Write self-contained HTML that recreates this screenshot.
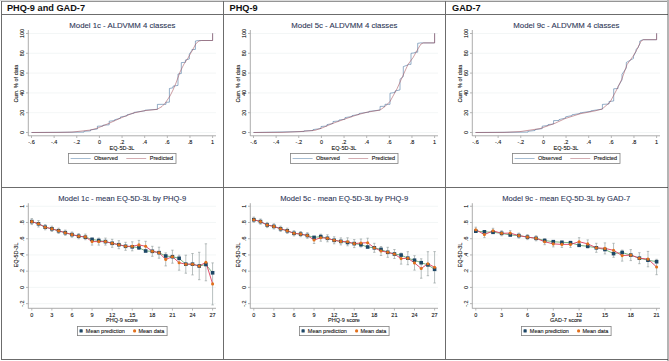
<!DOCTYPE html>
<html><head><meta charset="utf-8"><style>
html,body{margin:0;padding:0;background:#fff;width:669px;height:361px;overflow:hidden}
svg{display:block}
text{font-family:"Liberation Sans", sans-serif}
</style></head><body>
<svg width="669" height="361" viewBox="0 0 669 361">
<rect x="0" y="0" width="669" height="361" fill="#fff"/>
<text x="122.4" y="27.6" font-size="7.8" fill="#2c3656" stroke="#2c3656" stroke-width="0.1" text-anchor="middle" font-weight="normal">Model 1c - ALDVMM 4 classes</text>
<line x1="28.8" y1="132.5" x2="216" y2="132.5" stroke="#f0f4f4" stroke-width="0.8"/>
<line x1="28.8" y1="112.7" x2="216" y2="112.7" stroke="#f0f4f4" stroke-width="0.8"/>
<line x1="28.8" y1="92.9" x2="216" y2="92.9" stroke="#f0f4f4" stroke-width="0.8"/>
<line x1="28.8" y1="73.1" x2="216" y2="73.1" stroke="#f0f4f4" stroke-width="0.8"/>
<line x1="28.8" y1="53.3" x2="216" y2="53.3" stroke="#f0f4f4" stroke-width="0.8"/>
<line x1="28.8" y1="33.5" x2="216" y2="33.5" stroke="#f0f4f4" stroke-width="0.8"/>
<line x1="28.3" y1="30" x2="28.3" y2="136" stroke="#a4a4a4" stroke-width="0.9"/>
<line x1="28.3" y1="135.8" x2="216" y2="135.8" stroke="#a4a4a4" stroke-width="0.9"/>
<line x1="26" y1="132.5" x2="28.3" y2="132.5" stroke="#a4a4a4" stroke-width="0.8"/>
<text x="23.8" y="132.5" font-size="5.3" fill="#151515" stroke="#151515" stroke-width="0.1" text-anchor="middle" font-weight="normal" transform="rotate(-90 23.8 132.5)">0</text>
<line x1="26" y1="112.7" x2="28.3" y2="112.7" stroke="#a4a4a4" stroke-width="0.8"/>
<text x="23.8" y="112.7" font-size="5.3" fill="#151515" stroke="#151515" stroke-width="0.1" text-anchor="middle" font-weight="normal" transform="rotate(-90 23.8 112.7)">20</text>
<line x1="26" y1="92.9" x2="28.3" y2="92.9" stroke="#a4a4a4" stroke-width="0.8"/>
<text x="23.8" y="92.9" font-size="5.3" fill="#151515" stroke="#151515" stroke-width="0.1" text-anchor="middle" font-weight="normal" transform="rotate(-90 23.8 92.9)">40</text>
<line x1="26" y1="73.1" x2="28.3" y2="73.1" stroke="#a4a4a4" stroke-width="0.8"/>
<text x="23.8" y="73.1" font-size="5.3" fill="#151515" stroke="#151515" stroke-width="0.1" text-anchor="middle" font-weight="normal" transform="rotate(-90 23.8 73.1)">60</text>
<line x1="26" y1="53.3" x2="28.3" y2="53.3" stroke="#a4a4a4" stroke-width="0.8"/>
<text x="23.8" y="53.3" font-size="5.3" fill="#151515" stroke="#151515" stroke-width="0.1" text-anchor="middle" font-weight="normal" transform="rotate(-90 23.8 53.3)">80</text>
<line x1="26" y1="33.5" x2="28.3" y2="33.5" stroke="#a4a4a4" stroke-width="0.8"/>
<text x="23.8" y="33.5" font-size="5.3" fill="#151515" stroke="#151515" stroke-width="0.1" text-anchor="middle" font-weight="normal" transform="rotate(-90 23.8 33.5)">100</text>
<line x1="31.5" y1="135.8" x2="31.5" y2="138" stroke="#a4a4a4" stroke-width="0.8"/>
<text x="31.5" y="144.3" font-size="5.5" fill="#151515" stroke="#151515" stroke-width="0.1" text-anchor="middle" font-weight="normal">-.6</text>
<line x1="54.14" y1="135.8" x2="54.14" y2="138" stroke="#a4a4a4" stroke-width="0.8"/>
<text x="54.14" y="144.3" font-size="5.5" fill="#151515" stroke="#151515" stroke-width="0.1" text-anchor="middle" font-weight="normal">-.4</text>
<line x1="76.78" y1="135.8" x2="76.78" y2="138" stroke="#a4a4a4" stroke-width="0.8"/>
<text x="76.78" y="144.3" font-size="5.5" fill="#151515" stroke="#151515" stroke-width="0.1" text-anchor="middle" font-weight="normal">-.2</text>
<line x1="99.41" y1="135.8" x2="99.41" y2="138" stroke="#a4a4a4" stroke-width="0.8"/>
<text x="99.41" y="144.3" font-size="5.5" fill="#151515" stroke="#151515" stroke-width="0.1" text-anchor="middle" font-weight="normal">0</text>
<line x1="122.05" y1="135.8" x2="122.05" y2="138" stroke="#a4a4a4" stroke-width="0.8"/>
<text x="122.05" y="144.3" font-size="5.5" fill="#151515" stroke="#151515" stroke-width="0.1" text-anchor="middle" font-weight="normal">.2</text>
<line x1="144.69" y1="135.8" x2="144.69" y2="138" stroke="#a4a4a4" stroke-width="0.8"/>
<text x="144.69" y="144.3" font-size="5.5" fill="#151515" stroke="#151515" stroke-width="0.1" text-anchor="middle" font-weight="normal">.4</text>
<line x1="167.33" y1="135.8" x2="167.33" y2="138" stroke="#a4a4a4" stroke-width="0.8"/>
<text x="167.33" y="144.3" font-size="5.5" fill="#151515" stroke="#151515" stroke-width="0.1" text-anchor="middle" font-weight="normal">.6</text>
<line x1="189.96" y1="135.8" x2="189.96" y2="138" stroke="#a4a4a4" stroke-width="0.8"/>
<text x="189.96" y="144.3" font-size="5.5" fill="#151515" stroke="#151515" stroke-width="0.1" text-anchor="middle" font-weight="normal">.8</text>
<line x1="212.6" y1="135.8" x2="212.6" y2="138" stroke="#a4a4a4" stroke-width="0.8"/>
<text x="212.6" y="144.3" font-size="5.5" fill="#151515" stroke="#151515" stroke-width="0.1" text-anchor="middle" font-weight="normal">1</text>
<text x="122" y="149.6" font-size="5.5" fill="#151515" stroke="#151515" stroke-width="0.1" text-anchor="middle" font-weight="normal">EQ-5D-3L</text>
<text x="18.2" y="83.6" font-size="5.5" fill="#151515" stroke="#151515" stroke-width="0.1" text-anchor="middle" font-weight="normal" transform="rotate(-90 18.2 83.6)">Cum. % of data</text>
<rect x="68.5" y="153.5" width="107.5" height="10" fill="#fff" stroke="#808080" stroke-width="0.8"/>
<line x1="70.6" y1="158.5" x2="90.6" y2="158.5" stroke="#3a6a98" stroke-width="0.9" stroke-opacity="0.5"/>
<text x="94" y="160.4" font-size="5.5" fill="#151515" stroke="#151515" stroke-width="0.1" text-anchor="start" font-weight="normal">Observed</text>
<line x1="126.3" y1="158.5" x2="146.2" y2="158.5" stroke="#a04a55" stroke-width="0.9" stroke-opacity="0.5"/>
<text x="149.8" y="160.4" font-size="5.5" fill="#151515" stroke="#151515" stroke-width="0.1" text-anchor="start" font-weight="normal">Predicted</text>
<polyline points="31.5,132.5 84,132.1 84,131.3 90.5,130.9 90.5,129.9 97.4,129 97.4,126.2 103,126 103,125.2 109.2,124.8 109.2,121.2 114.5,120.6 114.5,119.8 120.4,118.2 120.4,117 127,115.8 127,114.8 134,113.2 134,112.4 145,110.8 145,110.2 157.4,109.3 157.4,104.4 166,104.3 166,102.2 169.4,102.2 169.4,88.5 173,87.8 173,86.2 178,85.4 178,74 181.3,73.5 181.3,62.6 185.4,62.3 185.4,60 189.3,59 189.3,54.1 191.9,50.5 191.9,49.6 195.4,49.4 195.4,41 198.6,40.5 212.6,40.5 212.6,33.3" fill="none" stroke="#3a6a98" stroke-width="0.9" stroke-opacity="0.6" stroke-linejoin="round"/>
<polyline points="31.5,132.5 60,132.4 72,132.1 82,131 90,130.1 97,128.3 109,123.3 121,117.9 133,113.1 145,110.6 157,109.4 162,106.5 165,103.3 170,96 173,90 176,83 180,72 184,64 188,58 192,51 196,43.5 199,41 201.5,40.5 212.6,40.5 212.6,33.3" fill="none" stroke="#a04a55" stroke-width="0.9" stroke-opacity="0.6" stroke-linejoin="round"/>
<text x="344.4" y="27.6" font-size="7.8" fill="#2c3656" stroke="#2c3656" stroke-width="0.1" text-anchor="middle" font-weight="normal">Model 5c - ALDVMM 4 classes</text>
<line x1="250.8" y1="132.5" x2="438" y2="132.5" stroke="#f0f4f4" stroke-width="0.8"/>
<line x1="250.8" y1="112.7" x2="438" y2="112.7" stroke="#f0f4f4" stroke-width="0.8"/>
<line x1="250.8" y1="92.9" x2="438" y2="92.9" stroke="#f0f4f4" stroke-width="0.8"/>
<line x1="250.8" y1="73.1" x2="438" y2="73.1" stroke="#f0f4f4" stroke-width="0.8"/>
<line x1="250.8" y1="53.3" x2="438" y2="53.3" stroke="#f0f4f4" stroke-width="0.8"/>
<line x1="250.8" y1="33.5" x2="438" y2="33.5" stroke="#f0f4f4" stroke-width="0.8"/>
<line x1="250.3" y1="30" x2="250.3" y2="136" stroke="#a4a4a4" stroke-width="0.9"/>
<line x1="250.3" y1="135.8" x2="438" y2="135.8" stroke="#a4a4a4" stroke-width="0.9"/>
<line x1="248" y1="132.5" x2="250.3" y2="132.5" stroke="#a4a4a4" stroke-width="0.8"/>
<text x="245.8" y="132.5" font-size="5.3" fill="#151515" stroke="#151515" stroke-width="0.1" text-anchor="middle" font-weight="normal" transform="rotate(-90 245.8 132.5)">0</text>
<line x1="248" y1="112.7" x2="250.3" y2="112.7" stroke="#a4a4a4" stroke-width="0.8"/>
<text x="245.8" y="112.7" font-size="5.3" fill="#151515" stroke="#151515" stroke-width="0.1" text-anchor="middle" font-weight="normal" transform="rotate(-90 245.8 112.7)">20</text>
<line x1="248" y1="92.9" x2="250.3" y2="92.9" stroke="#a4a4a4" stroke-width="0.8"/>
<text x="245.8" y="92.9" font-size="5.3" fill="#151515" stroke="#151515" stroke-width="0.1" text-anchor="middle" font-weight="normal" transform="rotate(-90 245.8 92.9)">40</text>
<line x1="248" y1="73.1" x2="250.3" y2="73.1" stroke="#a4a4a4" stroke-width="0.8"/>
<text x="245.8" y="73.1" font-size="5.3" fill="#151515" stroke="#151515" stroke-width="0.1" text-anchor="middle" font-weight="normal" transform="rotate(-90 245.8 73.1)">60</text>
<line x1="248" y1="53.3" x2="250.3" y2="53.3" stroke="#a4a4a4" stroke-width="0.8"/>
<text x="245.8" y="53.3" font-size="5.3" fill="#151515" stroke="#151515" stroke-width="0.1" text-anchor="middle" font-weight="normal" transform="rotate(-90 245.8 53.3)">80</text>
<line x1="248" y1="33.5" x2="250.3" y2="33.5" stroke="#a4a4a4" stroke-width="0.8"/>
<text x="245.8" y="33.5" font-size="5.3" fill="#151515" stroke="#151515" stroke-width="0.1" text-anchor="middle" font-weight="normal" transform="rotate(-90 245.8 33.5)">100</text>
<line x1="253.5" y1="135.8" x2="253.5" y2="138" stroke="#a4a4a4" stroke-width="0.8"/>
<text x="253.5" y="144.3" font-size="5.5" fill="#151515" stroke="#151515" stroke-width="0.1" text-anchor="middle" font-weight="normal">-.6</text>
<line x1="276.14" y1="135.8" x2="276.14" y2="138" stroke="#a4a4a4" stroke-width="0.8"/>
<text x="276.14" y="144.3" font-size="5.5" fill="#151515" stroke="#151515" stroke-width="0.1" text-anchor="middle" font-weight="normal">-.4</text>
<line x1="298.77" y1="135.8" x2="298.77" y2="138" stroke="#a4a4a4" stroke-width="0.8"/>
<text x="298.77" y="144.3" font-size="5.5" fill="#151515" stroke="#151515" stroke-width="0.1" text-anchor="middle" font-weight="normal">-.2</text>
<line x1="321.41" y1="135.8" x2="321.41" y2="138" stroke="#a4a4a4" stroke-width="0.8"/>
<text x="321.41" y="144.3" font-size="5.5" fill="#151515" stroke="#151515" stroke-width="0.1" text-anchor="middle" font-weight="normal">0</text>
<line x1="344.05" y1="135.8" x2="344.05" y2="138" stroke="#a4a4a4" stroke-width="0.8"/>
<text x="344.05" y="144.3" font-size="5.5" fill="#151515" stroke="#151515" stroke-width="0.1" text-anchor="middle" font-weight="normal">.2</text>
<line x1="366.69" y1="135.8" x2="366.69" y2="138" stroke="#a4a4a4" stroke-width="0.8"/>
<text x="366.69" y="144.3" font-size="5.5" fill="#151515" stroke="#151515" stroke-width="0.1" text-anchor="middle" font-weight="normal">.4</text>
<line x1="389.33" y1="135.8" x2="389.33" y2="138" stroke="#a4a4a4" stroke-width="0.8"/>
<text x="389.33" y="144.3" font-size="5.5" fill="#151515" stroke="#151515" stroke-width="0.1" text-anchor="middle" font-weight="normal">.6</text>
<line x1="411.96" y1="135.8" x2="411.96" y2="138" stroke="#a4a4a4" stroke-width="0.8"/>
<text x="411.96" y="144.3" font-size="5.5" fill="#151515" stroke="#151515" stroke-width="0.1" text-anchor="middle" font-weight="normal">.8</text>
<line x1="434.6" y1="135.8" x2="434.6" y2="138" stroke="#a4a4a4" stroke-width="0.8"/>
<text x="434.6" y="144.3" font-size="5.5" fill="#151515" stroke="#151515" stroke-width="0.1" text-anchor="middle" font-weight="normal">1</text>
<text x="344" y="149.6" font-size="5.5" fill="#151515" stroke="#151515" stroke-width="0.1" text-anchor="middle" font-weight="normal">EQ-5D-3L</text>
<text x="240.2" y="83.6" font-size="5.5" fill="#151515" stroke="#151515" stroke-width="0.1" text-anchor="middle" font-weight="normal" transform="rotate(-90 240.2 83.6)">Cum. % of data</text>
<rect x="290.5" y="153.5" width="107.5" height="10" fill="#fff" stroke="#808080" stroke-width="0.8"/>
<line x1="292.6" y1="158.5" x2="312.6" y2="158.5" stroke="#3a6a98" stroke-width="0.9" stroke-opacity="0.5"/>
<text x="316" y="160.4" font-size="5.5" fill="#151515" stroke="#151515" stroke-width="0.1" text-anchor="start" font-weight="normal">Observed</text>
<line x1="348.3" y1="158.5" x2="368.2" y2="158.5" stroke="#a04a55" stroke-width="0.9" stroke-opacity="0.5"/>
<text x="371.8" y="160.4" font-size="5.5" fill="#151515" stroke="#151515" stroke-width="0.1" text-anchor="start" font-weight="normal">Predicted</text>
<polyline points="253.5,132.5 304,131.5 304,130.9 313,130.6 313,129.6 321,128.5 321,126.5 327,126 327,124.6 333,123.5 333,121.5 339,121 339,120 345,119.2 345,117.6 352,116.5 352,115.6 359,114.5 359,113.5 369,112.1 369,111.4 380.1,110 380.1,106.4 385,106.3 385,104.3 390,104.3 390,93.2 395,92.5 395,91 400,89.9 400,79.2 403.3,76.6 403.3,66.6 408.8,64.6 408.8,64.2 411,64.4 411,53.3 415,52.8 415,52.2 417.7,52.2 417.7,43.3 420.9,42.9 434.6,42.9 434.6,33.3" fill="none" stroke="#3a6a98" stroke-width="0.9" stroke-opacity="0.6" stroke-linejoin="round"/>
<polyline points="253.5,132.5 282,132.4 300,131.6 315,130.3 322,128 333,123.3 345,119 357,114.9 367,112.2 380,110.1 385,106.5 390,101.5 397,88.8 402,77.7 408,64.4 413,57.7 418,48.8 421,44 423.5,42.9 434.6,42.9 434.6,33.3" fill="none" stroke="#a04a55" stroke-width="0.9" stroke-opacity="0.6" stroke-linejoin="round"/>
<text x="566.4" y="27.6" font-size="7.8" fill="#2c3656" stroke="#2c3656" stroke-width="0.1" text-anchor="middle" font-weight="normal">Model 9c - ALDVMM 4 classes</text>
<line x1="472.8" y1="132.5" x2="660" y2="132.5" stroke="#f0f4f4" stroke-width="0.8"/>
<line x1="472.8" y1="112.7" x2="660" y2="112.7" stroke="#f0f4f4" stroke-width="0.8"/>
<line x1="472.8" y1="92.9" x2="660" y2="92.9" stroke="#f0f4f4" stroke-width="0.8"/>
<line x1="472.8" y1="73.1" x2="660" y2="73.1" stroke="#f0f4f4" stroke-width="0.8"/>
<line x1="472.8" y1="53.3" x2="660" y2="53.3" stroke="#f0f4f4" stroke-width="0.8"/>
<line x1="472.8" y1="33.5" x2="660" y2="33.5" stroke="#f0f4f4" stroke-width="0.8"/>
<line x1="472.3" y1="30" x2="472.3" y2="136" stroke="#a4a4a4" stroke-width="0.9"/>
<line x1="472.3" y1="135.8" x2="660" y2="135.8" stroke="#a4a4a4" stroke-width="0.9"/>
<line x1="470" y1="132.5" x2="472.3" y2="132.5" stroke="#a4a4a4" stroke-width="0.8"/>
<text x="467.8" y="132.5" font-size="5.3" fill="#151515" stroke="#151515" stroke-width="0.1" text-anchor="middle" font-weight="normal" transform="rotate(-90 467.8 132.5)">0</text>
<line x1="470" y1="112.7" x2="472.3" y2="112.7" stroke="#a4a4a4" stroke-width="0.8"/>
<text x="467.8" y="112.7" font-size="5.3" fill="#151515" stroke="#151515" stroke-width="0.1" text-anchor="middle" font-weight="normal" transform="rotate(-90 467.8 112.7)">20</text>
<line x1="470" y1="92.9" x2="472.3" y2="92.9" stroke="#a4a4a4" stroke-width="0.8"/>
<text x="467.8" y="92.9" font-size="5.3" fill="#151515" stroke="#151515" stroke-width="0.1" text-anchor="middle" font-weight="normal" transform="rotate(-90 467.8 92.9)">40</text>
<line x1="470" y1="73.1" x2="472.3" y2="73.1" stroke="#a4a4a4" stroke-width="0.8"/>
<text x="467.8" y="73.1" font-size="5.3" fill="#151515" stroke="#151515" stroke-width="0.1" text-anchor="middle" font-weight="normal" transform="rotate(-90 467.8 73.1)">60</text>
<line x1="470" y1="53.3" x2="472.3" y2="53.3" stroke="#a4a4a4" stroke-width="0.8"/>
<text x="467.8" y="53.3" font-size="5.3" fill="#151515" stroke="#151515" stroke-width="0.1" text-anchor="middle" font-weight="normal" transform="rotate(-90 467.8 53.3)">80</text>
<line x1="470" y1="33.5" x2="472.3" y2="33.5" stroke="#a4a4a4" stroke-width="0.8"/>
<text x="467.8" y="33.5" font-size="5.3" fill="#151515" stroke="#151515" stroke-width="0.1" text-anchor="middle" font-weight="normal" transform="rotate(-90 467.8 33.5)">100</text>
<line x1="475.5" y1="135.8" x2="475.5" y2="138" stroke="#a4a4a4" stroke-width="0.8"/>
<text x="475.5" y="144.3" font-size="5.5" fill="#151515" stroke="#151515" stroke-width="0.1" text-anchor="middle" font-weight="normal">-.6</text>
<line x1="498.14" y1="135.8" x2="498.14" y2="138" stroke="#a4a4a4" stroke-width="0.8"/>
<text x="498.14" y="144.3" font-size="5.5" fill="#151515" stroke="#151515" stroke-width="0.1" text-anchor="middle" font-weight="normal">-.4</text>
<line x1="520.77" y1="135.8" x2="520.77" y2="138" stroke="#a4a4a4" stroke-width="0.8"/>
<text x="520.77" y="144.3" font-size="5.5" fill="#151515" stroke="#151515" stroke-width="0.1" text-anchor="middle" font-weight="normal">-.2</text>
<line x1="543.41" y1="135.8" x2="543.41" y2="138" stroke="#a4a4a4" stroke-width="0.8"/>
<text x="543.41" y="144.3" font-size="5.5" fill="#151515" stroke="#151515" stroke-width="0.1" text-anchor="middle" font-weight="normal">0</text>
<line x1="566.05" y1="135.8" x2="566.05" y2="138" stroke="#a4a4a4" stroke-width="0.8"/>
<text x="566.05" y="144.3" font-size="5.5" fill="#151515" stroke="#151515" stroke-width="0.1" text-anchor="middle" font-weight="normal">.2</text>
<line x1="588.69" y1="135.8" x2="588.69" y2="138" stroke="#a4a4a4" stroke-width="0.8"/>
<text x="588.69" y="144.3" font-size="5.5" fill="#151515" stroke="#151515" stroke-width="0.1" text-anchor="middle" font-weight="normal">.4</text>
<line x1="611.33" y1="135.8" x2="611.33" y2="138" stroke="#a4a4a4" stroke-width="0.8"/>
<text x="611.33" y="144.3" font-size="5.5" fill="#151515" stroke="#151515" stroke-width="0.1" text-anchor="middle" font-weight="normal">.6</text>
<line x1="633.96" y1="135.8" x2="633.96" y2="138" stroke="#a4a4a4" stroke-width="0.8"/>
<text x="633.96" y="144.3" font-size="5.5" fill="#151515" stroke="#151515" stroke-width="0.1" text-anchor="middle" font-weight="normal">.8</text>
<line x1="656.6" y1="135.8" x2="656.6" y2="138" stroke="#a4a4a4" stroke-width="0.8"/>
<text x="656.6" y="144.3" font-size="5.5" fill="#151515" stroke="#151515" stroke-width="0.1" text-anchor="middle" font-weight="normal">1</text>
<text x="566" y="149.6" font-size="5.5" fill="#151515" stroke="#151515" stroke-width="0.1" text-anchor="middle" font-weight="normal">EQ-5D-3L</text>
<text x="462.2" y="83.6" font-size="5.5" fill="#151515" stroke="#151515" stroke-width="0.1" text-anchor="middle" font-weight="normal" transform="rotate(-90 462.2 83.6)">Cum. % of data</text>
<rect x="512.5" y="153.5" width="107.5" height="10" fill="#fff" stroke="#808080" stroke-width="0.8"/>
<line x1="514.6" y1="158.5" x2="534.6" y2="158.5" stroke="#3a6a98" stroke-width="0.9" stroke-opacity="0.5"/>
<text x="538" y="160.4" font-size="5.5" fill="#151515" stroke="#151515" stroke-width="0.1" text-anchor="start" font-weight="normal">Observed</text>
<line x1="570.3" y1="158.5" x2="590.2" y2="158.5" stroke="#a04a55" stroke-width="0.9" stroke-opacity="0.5"/>
<text x="593.8" y="160.4" font-size="5.5" fill="#151515" stroke="#151515" stroke-width="0.1" text-anchor="start" font-weight="normal">Predicted</text>
<polyline points="475.5,132.5 528,132.1 528,131.3 535,130.5 535,129.6 542.2,128.6 542.2,126.2 548,125.5 548,124.6 553.6,124 553.6,120.6 559,120.5 559,119.6 565.7,118 565.7,116.8 572,115.6 572,114.8 580,113.5 580,112.9 591,111.3 591,110.8 602.4,109.1 602.4,104.4 609,104 609,101.5 613.7,101 613.7,88.8 618,88.5 618,86.6 622,79.9 622,74.3 626.3,68 626.3,62.5 633.5,58.4 633.5,56.3 636,51.5 636,49.4 638.5,47.3 638.5,46.5 639.8,43.9 639.8,41 643,39.7 656.6,39.7 656.6,33.3" fill="none" stroke="#3a6a98" stroke-width="0.9" stroke-opacity="0.6" stroke-linejoin="round"/>
<polyline points="475.5,132.5 504,132.4 520,131.6 540,128.6 555,123.3 565,118.6 580,113.8 595,110.9 602,109.1 610,102.2 616,91 619,85 621.8,79.2 627,64.6 633,56.3 637,49.4 641,41.1 643.5,39.7 656.6,39.7 656.6,33.3" fill="none" stroke="#a04a55" stroke-width="0.9" stroke-opacity="0.6" stroke-linejoin="round"/>
<text x="122.2" y="200.6" font-size="7.6" fill="#2c3656" stroke="#2c3656" stroke-width="0.1" text-anchor="middle" font-weight="normal">Model 1c - mean EQ-5D-3L by PHQ-9</text>
<line x1="28.8" y1="206.25" x2="216" y2="206.25" stroke="#f0f4f4" stroke-width="0.8"/>
<line x1="28.8" y1="222.48" x2="216" y2="222.48" stroke="#f0f4f4" stroke-width="0.8"/>
<line x1="28.8" y1="238.71" x2="216" y2="238.71" stroke="#f0f4f4" stroke-width="0.8"/>
<line x1="28.8" y1="254.94" x2="216" y2="254.94" stroke="#f0f4f4" stroke-width="0.8"/>
<line x1="28.8" y1="271.17" x2="216" y2="271.17" stroke="#f0f4f4" stroke-width="0.8"/>
<line x1="28.8" y1="287.4" x2="216" y2="287.4" stroke="#f0f4f4" stroke-width="0.8"/>
<line x1="28.8" y1="303.63" x2="216" y2="303.63" stroke="#f0f4f4" stroke-width="0.8"/>
<line x1="28.3" y1="203.2" x2="28.3" y2="308.6" stroke="#a4a4a4" stroke-width="0.9"/>
<line x1="28.3" y1="308.3" x2="216" y2="308.3" stroke="#a4a4a4" stroke-width="0.9"/>
<line x1="26" y1="206.25" x2="28.3" y2="206.25" stroke="#a4a4a4" stroke-width="0.8"/>
<text x="23.8" y="206.25" font-size="5.3" fill="#151515" stroke="#151515" stroke-width="0.1" text-anchor="middle" font-weight="normal" transform="rotate(-90 23.8 206.25)">1</text>
<line x1="26" y1="222.48" x2="28.3" y2="222.48" stroke="#a4a4a4" stroke-width="0.8"/>
<text x="23.8" y="222.48" font-size="5.3" fill="#151515" stroke="#151515" stroke-width="0.1" text-anchor="middle" font-weight="normal" transform="rotate(-90 23.8 222.48)">.8</text>
<line x1="26" y1="238.71" x2="28.3" y2="238.71" stroke="#a4a4a4" stroke-width="0.8"/>
<text x="23.8" y="238.71" font-size="5.3" fill="#151515" stroke="#151515" stroke-width="0.1" text-anchor="middle" font-weight="normal" transform="rotate(-90 23.8 238.71)">.6</text>
<line x1="26" y1="254.94" x2="28.3" y2="254.94" stroke="#a4a4a4" stroke-width="0.8"/>
<text x="23.8" y="254.94" font-size="5.3" fill="#151515" stroke="#151515" stroke-width="0.1" text-anchor="middle" font-weight="normal" transform="rotate(-90 23.8 254.94)">.4</text>
<line x1="26" y1="271.17" x2="28.3" y2="271.17" stroke="#a4a4a4" stroke-width="0.8"/>
<text x="23.8" y="271.17" font-size="5.3" fill="#151515" stroke="#151515" stroke-width="0.1" text-anchor="middle" font-weight="normal" transform="rotate(-90 23.8 271.17)">.2</text>
<line x1="26" y1="287.4" x2="28.3" y2="287.4" stroke="#a4a4a4" stroke-width="0.8"/>
<text x="23.8" y="287.4" font-size="5.3" fill="#151515" stroke="#151515" stroke-width="0.1" text-anchor="middle" font-weight="normal" transform="rotate(-90 23.8 287.4)">0</text>
<line x1="26" y1="303.63" x2="28.3" y2="303.63" stroke="#a4a4a4" stroke-width="0.8"/>
<text x="23.8" y="303.63" font-size="5.3" fill="#151515" stroke="#151515" stroke-width="0.1" text-anchor="middle" font-weight="normal" transform="rotate(-90 23.8 303.63)">-.2</text>
<line x1="31.8" y1="308.3" x2="31.8" y2="310.5" stroke="#a4a4a4" stroke-width="0.8"/>
<text x="31.8" y="317.1" font-size="5.5" fill="#151515" stroke="#151515" stroke-width="0.1" text-anchor="middle" font-weight="normal">0</text>
<line x1="51.89" y1="308.3" x2="51.89" y2="310.5" stroke="#a4a4a4" stroke-width="0.8"/>
<text x="51.89" y="317.1" font-size="5.5" fill="#151515" stroke="#151515" stroke-width="0.1" text-anchor="middle" font-weight="normal">3</text>
<line x1="71.98" y1="308.3" x2="71.98" y2="310.5" stroke="#a4a4a4" stroke-width="0.8"/>
<text x="71.98" y="317.1" font-size="5.5" fill="#151515" stroke="#151515" stroke-width="0.1" text-anchor="middle" font-weight="normal">6</text>
<line x1="92.07" y1="308.3" x2="92.07" y2="310.5" stroke="#a4a4a4" stroke-width="0.8"/>
<text x="92.07" y="317.1" font-size="5.5" fill="#151515" stroke="#151515" stroke-width="0.1" text-anchor="middle" font-weight="normal">9</text>
<line x1="112.16" y1="308.3" x2="112.16" y2="310.5" stroke="#a4a4a4" stroke-width="0.8"/>
<text x="112.16" y="317.1" font-size="5.5" fill="#151515" stroke="#151515" stroke-width="0.1" text-anchor="middle" font-weight="normal">12</text>
<line x1="132.24" y1="308.3" x2="132.24" y2="310.5" stroke="#a4a4a4" stroke-width="0.8"/>
<text x="132.24" y="317.1" font-size="5.5" fill="#151515" stroke="#151515" stroke-width="0.1" text-anchor="middle" font-weight="normal">15</text>
<line x1="152.33" y1="308.3" x2="152.33" y2="310.5" stroke="#a4a4a4" stroke-width="0.8"/>
<text x="152.33" y="317.1" font-size="5.5" fill="#151515" stroke="#151515" stroke-width="0.1" text-anchor="middle" font-weight="normal">18</text>
<line x1="172.42" y1="308.3" x2="172.42" y2="310.5" stroke="#a4a4a4" stroke-width="0.8"/>
<text x="172.42" y="317.1" font-size="5.5" fill="#151515" stroke="#151515" stroke-width="0.1" text-anchor="middle" font-weight="normal">21</text>
<line x1="192.51" y1="308.3" x2="192.51" y2="310.5" stroke="#a4a4a4" stroke-width="0.8"/>
<text x="192.51" y="317.1" font-size="5.5" fill="#151515" stroke="#151515" stroke-width="0.1" text-anchor="middle" font-weight="normal">24</text>
<line x1="212.6" y1="308.3" x2="212.6" y2="310.5" stroke="#a4a4a4" stroke-width="0.8"/>
<text x="212.6" y="317.1" font-size="5.5" fill="#151515" stroke="#151515" stroke-width="0.1" text-anchor="middle" font-weight="normal">27</text>
<text x="122" y="321.9" font-size="5.5" fill="#151515" stroke="#151515" stroke-width="0.1" text-anchor="middle" font-weight="normal">PHQ-9 score</text>
<text x="18.2" y="255" font-size="5.5" fill="#151515" stroke="#151515" stroke-width="0.1" text-anchor="middle" font-weight="normal" transform="rotate(-90 18.2 255)">EQ-5D-3L</text>
<rect x="77.5" y="326.5" width="89.6" height="9.1" fill="#fff" stroke="#808080" stroke-width="0.8"/>
<rect x="79.5" y="329.3" width="3.2" height="3.2" rx="0.6" fill="#1e4766"/>
<text x="85.8" y="333" font-size="5.5" fill="#151515" stroke="#151515" stroke-width="0.1" text-anchor="start" font-weight="normal">Mean prediction</text>
<circle cx="134.6" cy="330.9" r="1.6" fill="#e2701c"/>
<text x="138.4" y="333" font-size="5.5" fill="#151515" stroke="#151515" stroke-width="0.1" text-anchor="start" font-weight="normal">Mean data</text>
<line x1="31.8" y1="218.6" x2="31.8" y2="224.6" stroke="#9aa3a3" stroke-width="0.7"/>
<line x1="30.6" y1="218.6" x2="33" y2="218.6" stroke="#9aa3a3" stroke-width="0.7"/>
<line x1="30.6" y1="224.6" x2="33" y2="224.6" stroke="#9aa3a3" stroke-width="0.7"/>
<line x1="38.5" y1="220.6" x2="38.5" y2="227" stroke="#9aa3a3" stroke-width="0.7"/>
<line x1="37.3" y1="220.6" x2="39.7" y2="220.6" stroke="#9aa3a3" stroke-width="0.7"/>
<line x1="37.3" y1="227" x2="39.7" y2="227" stroke="#9aa3a3" stroke-width="0.7"/>
<line x1="45.19" y1="224.6" x2="45.19" y2="229.8" stroke="#9aa3a3" stroke-width="0.7"/>
<line x1="43.99" y1="224.6" x2="46.39" y2="224.6" stroke="#9aa3a3" stroke-width="0.7"/>
<line x1="43.99" y1="229.8" x2="46.39" y2="229.8" stroke="#9aa3a3" stroke-width="0.7"/>
<line x1="51.89" y1="226.2" x2="51.89" y2="231.4" stroke="#9aa3a3" stroke-width="0.7"/>
<line x1="50.69" y1="226.2" x2="53.09" y2="226.2" stroke="#9aa3a3" stroke-width="0.7"/>
<line x1="50.69" y1="231.4" x2="53.09" y2="231.4" stroke="#9aa3a3" stroke-width="0.7"/>
<line x1="58.59" y1="228.2" x2="58.59" y2="233.4" stroke="#9aa3a3" stroke-width="0.7"/>
<line x1="57.39" y1="228.2" x2="59.79" y2="228.2" stroke="#9aa3a3" stroke-width="0.7"/>
<line x1="57.39" y1="233.4" x2="59.79" y2="233.4" stroke="#9aa3a3" stroke-width="0.7"/>
<line x1="65.28" y1="230.1" x2="65.28" y2="235.3" stroke="#9aa3a3" stroke-width="0.7"/>
<line x1="64.08" y1="230.1" x2="66.48" y2="230.1" stroke="#9aa3a3" stroke-width="0.7"/>
<line x1="64.08" y1="235.3" x2="66.48" y2="235.3" stroke="#9aa3a3" stroke-width="0.7"/>
<line x1="71.98" y1="232" x2="71.98" y2="237.2" stroke="#9aa3a3" stroke-width="0.7"/>
<line x1="70.78" y1="232" x2="73.18" y2="232" stroke="#9aa3a3" stroke-width="0.7"/>
<line x1="70.78" y1="237.2" x2="73.18" y2="237.2" stroke="#9aa3a3" stroke-width="0.7"/>
<line x1="78.67" y1="233.6" x2="78.67" y2="238.8" stroke="#9aa3a3" stroke-width="0.7"/>
<line x1="77.47" y1="233.6" x2="79.87" y2="233.6" stroke="#9aa3a3" stroke-width="0.7"/>
<line x1="77.47" y1="238.8" x2="79.87" y2="238.8" stroke="#9aa3a3" stroke-width="0.7"/>
<line x1="85.37" y1="234.1" x2="85.37" y2="239.7" stroke="#9aa3a3" stroke-width="0.7"/>
<line x1="84.17" y1="234.1" x2="86.57" y2="234.1" stroke="#9aa3a3" stroke-width="0.7"/>
<line x1="84.17" y1="239.7" x2="86.57" y2="239.7" stroke="#9aa3a3" stroke-width="0.7"/>
<line x1="92.07" y1="238.1" x2="92.07" y2="245.1" stroke="#9aa3a3" stroke-width="0.7"/>
<line x1="90.87" y1="238.1" x2="93.27" y2="238.1" stroke="#9aa3a3" stroke-width="0.7"/>
<line x1="90.87" y1="245.1" x2="93.27" y2="245.1" stroke="#9aa3a3" stroke-width="0.7"/>
<line x1="98.76" y1="238.1" x2="98.76" y2="245.1" stroke="#9aa3a3" stroke-width="0.7"/>
<line x1="97.56" y1="238.1" x2="99.96" y2="238.1" stroke="#9aa3a3" stroke-width="0.7"/>
<line x1="97.56" y1="245.1" x2="99.96" y2="245.1" stroke="#9aa3a3" stroke-width="0.7"/>
<line x1="105.46" y1="238.1" x2="105.46" y2="245.1" stroke="#9aa3a3" stroke-width="0.7"/>
<line x1="104.26" y1="238.1" x2="106.66" y2="238.1" stroke="#9aa3a3" stroke-width="0.7"/>
<line x1="104.26" y1="245.1" x2="106.66" y2="245.1" stroke="#9aa3a3" stroke-width="0.7"/>
<line x1="112.16" y1="239.3" x2="112.16" y2="247.3" stroke="#9aa3a3" stroke-width="0.7"/>
<line x1="110.96" y1="239.3" x2="113.36" y2="239.3" stroke="#9aa3a3" stroke-width="0.7"/>
<line x1="110.96" y1="247.3" x2="113.36" y2="247.3" stroke="#9aa3a3" stroke-width="0.7"/>
<line x1="118.85" y1="240.7" x2="118.85" y2="248.7" stroke="#9aa3a3" stroke-width="0.7"/>
<line x1="117.65" y1="240.7" x2="120.05" y2="240.7" stroke="#9aa3a3" stroke-width="0.7"/>
<line x1="117.65" y1="248.7" x2="120.05" y2="248.7" stroke="#9aa3a3" stroke-width="0.7"/>
<line x1="125.55" y1="242.3" x2="125.55" y2="250.3" stroke="#9aa3a3" stroke-width="0.7"/>
<line x1="124.35" y1="242.3" x2="126.75" y2="242.3" stroke="#9aa3a3" stroke-width="0.7"/>
<line x1="124.35" y1="250.3" x2="126.75" y2="250.3" stroke="#9aa3a3" stroke-width="0.7"/>
<line x1="132.24" y1="241.8" x2="132.24" y2="250.8" stroke="#9aa3a3" stroke-width="0.7"/>
<line x1="131.04" y1="241.8" x2="133.44" y2="241.8" stroke="#9aa3a3" stroke-width="0.7"/>
<line x1="131.04" y1="250.8" x2="133.44" y2="250.8" stroke="#9aa3a3" stroke-width="0.7"/>
<line x1="138.94" y1="240.4" x2="138.94" y2="249.4" stroke="#9aa3a3" stroke-width="0.7"/>
<line x1="137.74" y1="240.4" x2="140.14" y2="240.4" stroke="#9aa3a3" stroke-width="0.7"/>
<line x1="137.74" y1="249.4" x2="140.14" y2="249.4" stroke="#9aa3a3" stroke-width="0.7"/>
<line x1="145.64" y1="241.3" x2="145.64" y2="251.3" stroke="#9aa3a3" stroke-width="0.7"/>
<line x1="144.44" y1="241.3" x2="146.84" y2="241.3" stroke="#9aa3a3" stroke-width="0.7"/>
<line x1="144.44" y1="251.3" x2="146.84" y2="251.3" stroke="#9aa3a3" stroke-width="0.7"/>
<line x1="152.33" y1="246.3" x2="152.33" y2="256.3" stroke="#9aa3a3" stroke-width="0.7"/>
<line x1="151.13" y1="246.3" x2="153.53" y2="246.3" stroke="#9aa3a3" stroke-width="0.7"/>
<line x1="151.13" y1="256.3" x2="153.53" y2="256.3" stroke="#9aa3a3" stroke-width="0.7"/>
<line x1="159.03" y1="247.2" x2="159.03" y2="258.2" stroke="#9aa3a3" stroke-width="0.7"/>
<line x1="157.83" y1="247.2" x2="160.23" y2="247.2" stroke="#9aa3a3" stroke-width="0.7"/>
<line x1="157.83" y1="258.2" x2="160.23" y2="258.2" stroke="#9aa3a3" stroke-width="0.7"/>
<line x1="165.73" y1="252.9" x2="165.73" y2="265.9" stroke="#9aa3a3" stroke-width="0.7"/>
<line x1="164.53" y1="252.9" x2="166.93" y2="252.9" stroke="#9aa3a3" stroke-width="0.7"/>
<line x1="164.53" y1="265.9" x2="166.93" y2="265.9" stroke="#9aa3a3" stroke-width="0.7"/>
<line x1="172.42" y1="250.2" x2="172.42" y2="263.2" stroke="#9aa3a3" stroke-width="0.7"/>
<line x1="171.22" y1="250.2" x2="173.62" y2="250.2" stroke="#9aa3a3" stroke-width="0.7"/>
<line x1="171.22" y1="263.2" x2="173.62" y2="263.2" stroke="#9aa3a3" stroke-width="0.7"/>
<line x1="179.12" y1="255.2" x2="179.12" y2="270.2" stroke="#9aa3a3" stroke-width="0.7"/>
<line x1="177.92" y1="255.2" x2="180.32" y2="255.2" stroke="#9aa3a3" stroke-width="0.7"/>
<line x1="177.92" y1="270.2" x2="180.32" y2="270.2" stroke="#9aa3a3" stroke-width="0.7"/>
<line x1="185.81" y1="255.2" x2="185.81" y2="273.2" stroke="#9aa3a3" stroke-width="0.7"/>
<line x1="184.61" y1="255.2" x2="187.01" y2="255.2" stroke="#9aa3a3" stroke-width="0.7"/>
<line x1="184.61" y1="273.2" x2="187.01" y2="273.2" stroke="#9aa3a3" stroke-width="0.7"/>
<line x1="192.51" y1="253.5" x2="192.51" y2="274.9" stroke="#9aa3a3" stroke-width="0.7"/>
<line x1="191.31" y1="253.5" x2="193.71" y2="253.5" stroke="#9aa3a3" stroke-width="0.7"/>
<line x1="191.31" y1="274.9" x2="193.71" y2="274.9" stroke="#9aa3a3" stroke-width="0.7"/>
<line x1="199.21" y1="252.3" x2="199.21" y2="279.7" stroke="#9aa3a3" stroke-width="0.7"/>
<line x1="198.01" y1="252.3" x2="200.41" y2="252.3" stroke="#9aa3a3" stroke-width="0.7"/>
<line x1="198.01" y1="279.7" x2="200.41" y2="279.7" stroke="#9aa3a3" stroke-width="0.7"/>
<line x1="205.9" y1="243.8" x2="205.9" y2="280.8" stroke="#9aa3a3" stroke-width="0.7"/>
<line x1="204.7" y1="243.8" x2="207.1" y2="243.8" stroke="#9aa3a3" stroke-width="0.7"/>
<line x1="204.7" y1="280.8" x2="207.1" y2="280.8" stroke="#9aa3a3" stroke-width="0.7"/>
<line x1="212.6" y1="262.9" x2="212.6" y2="304.9" stroke="#9aa3a3" stroke-width="0.7"/>
<line x1="211.4" y1="262.9" x2="213.8" y2="262.9" stroke="#9aa3a3" stroke-width="0.7"/>
<line x1="211.4" y1="304.9" x2="213.8" y2="304.9" stroke="#9aa3a3" stroke-width="0.7"/>
<polyline points="31.8,221.6 38.5,223.8 45.19,227.2 51.89,228.8 58.59,230.8 65.28,232.7 71.98,234.6 78.67,236.2 85.37,237.2 92.07,239.4 98.76,240.5 105.46,241.6 112.16,243.3 118.85,244.7 125.55,246.3 132.24,246.8 138.94,247.7 145.64,251 152.33,251.3 159.03,252.7 165.73,256 172.42,256.7 179.12,258.3 185.81,264.2 192.51,264.2 199.21,266 205.9,264.5 212.6,272.8" fill="none" stroke="#5aa060" stroke-width="0.8" stroke-opacity="1" stroke-linejoin="round"/>
<polyline points="31.8,221.6 38.5,223.8 45.19,227.2 51.89,228.8 58.59,230.8 65.28,232.7 71.98,234.6 78.67,236.2 85.37,236.9 92.07,241.6 98.76,241.6 105.46,241.6 112.16,243.3 118.85,244.7 125.55,246.3 132.24,246.3 138.94,244.9 145.64,246.3 152.33,251.3 159.03,252.7 165.73,259.4 172.42,256.7 179.12,262.7 185.81,264.2 192.51,264.2 199.21,266 205.9,262.3 212.6,283.9" fill="none" stroke="#de3c5c" stroke-width="0.9" stroke-opacity="1" stroke-linejoin="round"/>
<rect x="30" y="219.8" width="3.6" height="3.6" fill="#1e4766"/>
<rect x="36.7" y="222" width="3.6" height="3.6" fill="#1e4766"/>
<rect x="43.39" y="225.4" width="3.6" height="3.6" fill="#1e4766"/>
<rect x="50.09" y="227" width="3.6" height="3.6" fill="#1e4766"/>
<rect x="56.79" y="229" width="3.6" height="3.6" fill="#1e4766"/>
<rect x="63.48" y="230.9" width="3.6" height="3.6" fill="#1e4766"/>
<rect x="70.18" y="232.8" width="3.6" height="3.6" fill="#1e4766"/>
<rect x="76.87" y="234.4" width="3.6" height="3.6" fill="#1e4766"/>
<rect x="83.57" y="235.4" width="3.6" height="3.6" fill="#1e4766"/>
<rect x="90.27" y="237.6" width="3.6" height="3.6" fill="#1e4766"/>
<rect x="96.96" y="238.7" width="3.6" height="3.6" fill="#1e4766"/>
<rect x="103.66" y="239.8" width="3.6" height="3.6" fill="#1e4766"/>
<rect x="110.36" y="241.5" width="3.6" height="3.6" fill="#1e4766"/>
<rect x="117.05" y="242.9" width="3.6" height="3.6" fill="#1e4766"/>
<rect x="123.75" y="244.5" width="3.6" height="3.6" fill="#1e4766"/>
<rect x="130.44" y="245" width="3.6" height="3.6" fill="#1e4766"/>
<rect x="137.14" y="245.9" width="3.6" height="3.6" fill="#1e4766"/>
<rect x="143.84" y="249.2" width="3.6" height="3.6" fill="#1e4766"/>
<rect x="150.53" y="249.5" width="3.6" height="3.6" fill="#1e4766"/>
<rect x="157.23" y="250.9" width="3.6" height="3.6" fill="#1e4766"/>
<rect x="163.93" y="254.2" width="3.6" height="3.6" fill="#1e4766"/>
<rect x="170.62" y="254.9" width="3.6" height="3.6" fill="#1e4766"/>
<rect x="177.32" y="256.5" width="3.6" height="3.6" fill="#1e4766"/>
<rect x="184.01" y="262.4" width="3.6" height="3.6" fill="#1e4766"/>
<rect x="190.71" y="262.4" width="3.6" height="3.6" fill="#1e4766"/>
<rect x="197.41" y="264.2" width="3.6" height="3.6" fill="#1e4766"/>
<rect x="204.1" y="262.7" width="3.6" height="3.6" fill="#1e4766"/>
<rect x="210.8" y="271" width="3.6" height="3.6" fill="#1e4766"/>
<circle cx="31.8" cy="221.6" r="1.55" fill="#e2701c"/>
<circle cx="38.5" cy="223.8" r="1.55" fill="#e2701c"/>
<circle cx="45.19" cy="227.2" r="1.55" fill="#e2701c"/>
<circle cx="51.89" cy="228.8" r="1.55" fill="#e2701c"/>
<circle cx="58.59" cy="230.8" r="1.55" fill="#e2701c"/>
<circle cx="65.28" cy="232.7" r="1.55" fill="#e2701c"/>
<circle cx="71.98" cy="234.6" r="1.55" fill="#e2701c"/>
<circle cx="78.67" cy="236.2" r="1.55" fill="#e2701c"/>
<circle cx="85.37" cy="236.9" r="1.55" fill="#e2701c"/>
<circle cx="92.07" cy="241.6" r="1.55" fill="#e2701c"/>
<circle cx="98.76" cy="241.6" r="1.55" fill="#e2701c"/>
<circle cx="105.46" cy="241.6" r="1.55" fill="#e2701c"/>
<circle cx="112.16" cy="243.3" r="1.55" fill="#e2701c"/>
<circle cx="118.85" cy="244.7" r="1.55" fill="#e2701c"/>
<circle cx="125.55" cy="246.3" r="1.55" fill="#e2701c"/>
<circle cx="132.24" cy="246.3" r="1.55" fill="#e2701c"/>
<circle cx="138.94" cy="244.9" r="1.55" fill="#e2701c"/>
<circle cx="145.64" cy="246.3" r="1.55" fill="#e2701c"/>
<circle cx="152.33" cy="251.3" r="1.55" fill="#e2701c"/>
<circle cx="159.03" cy="252.7" r="1.55" fill="#e2701c"/>
<circle cx="165.73" cy="259.4" r="1.55" fill="#e2701c"/>
<circle cx="172.42" cy="256.7" r="1.55" fill="#e2701c"/>
<circle cx="179.12" cy="262.7" r="1.55" fill="#e2701c"/>
<circle cx="185.81" cy="264.2" r="1.55" fill="#e2701c"/>
<circle cx="192.51" cy="264.2" r="1.55" fill="#e2701c"/>
<circle cx="199.21" cy="266" r="1.55" fill="#e2701c"/>
<circle cx="205.9" cy="262.3" r="1.55" fill="#e2701c"/>
<circle cx="212.6" cy="283.9" r="1.55" fill="#e2701c"/>
<text x="344.2" y="200.6" font-size="7.6" fill="#2c3656" stroke="#2c3656" stroke-width="0.1" text-anchor="middle" font-weight="normal">Model 5c - mean EQ-5D-3L by PHQ-9</text>
<line x1="250.8" y1="206.25" x2="438" y2="206.25" stroke="#f0f4f4" stroke-width="0.8"/>
<line x1="250.8" y1="222.48" x2="438" y2="222.48" stroke="#f0f4f4" stroke-width="0.8"/>
<line x1="250.8" y1="238.71" x2="438" y2="238.71" stroke="#f0f4f4" stroke-width="0.8"/>
<line x1="250.8" y1="254.94" x2="438" y2="254.94" stroke="#f0f4f4" stroke-width="0.8"/>
<line x1="250.8" y1="271.17" x2="438" y2="271.17" stroke="#f0f4f4" stroke-width="0.8"/>
<line x1="250.8" y1="287.4" x2="438" y2="287.4" stroke="#f0f4f4" stroke-width="0.8"/>
<line x1="250.8" y1="303.63" x2="438" y2="303.63" stroke="#f0f4f4" stroke-width="0.8"/>
<line x1="250.3" y1="203.2" x2="250.3" y2="308.6" stroke="#a4a4a4" stroke-width="0.9"/>
<line x1="250.3" y1="308.3" x2="438" y2="308.3" stroke="#a4a4a4" stroke-width="0.9"/>
<line x1="248" y1="206.25" x2="250.3" y2="206.25" stroke="#a4a4a4" stroke-width="0.8"/>
<text x="245.8" y="206.25" font-size="5.3" fill="#151515" stroke="#151515" stroke-width="0.1" text-anchor="middle" font-weight="normal" transform="rotate(-90 245.8 206.25)">1</text>
<line x1="248" y1="222.48" x2="250.3" y2="222.48" stroke="#a4a4a4" stroke-width="0.8"/>
<text x="245.8" y="222.48" font-size="5.3" fill="#151515" stroke="#151515" stroke-width="0.1" text-anchor="middle" font-weight="normal" transform="rotate(-90 245.8 222.48)">.8</text>
<line x1="248" y1="238.71" x2="250.3" y2="238.71" stroke="#a4a4a4" stroke-width="0.8"/>
<text x="245.8" y="238.71" font-size="5.3" fill="#151515" stroke="#151515" stroke-width="0.1" text-anchor="middle" font-weight="normal" transform="rotate(-90 245.8 238.71)">.6</text>
<line x1="248" y1="254.94" x2="250.3" y2="254.94" stroke="#a4a4a4" stroke-width="0.8"/>
<text x="245.8" y="254.94" font-size="5.3" fill="#151515" stroke="#151515" stroke-width="0.1" text-anchor="middle" font-weight="normal" transform="rotate(-90 245.8 254.94)">.4</text>
<line x1="248" y1="271.17" x2="250.3" y2="271.17" stroke="#a4a4a4" stroke-width="0.8"/>
<text x="245.8" y="271.17" font-size="5.3" fill="#151515" stroke="#151515" stroke-width="0.1" text-anchor="middle" font-weight="normal" transform="rotate(-90 245.8 271.17)">.2</text>
<line x1="248" y1="287.4" x2="250.3" y2="287.4" stroke="#a4a4a4" stroke-width="0.8"/>
<text x="245.8" y="287.4" font-size="5.3" fill="#151515" stroke="#151515" stroke-width="0.1" text-anchor="middle" font-weight="normal" transform="rotate(-90 245.8 287.4)">0</text>
<line x1="248" y1="303.63" x2="250.3" y2="303.63" stroke="#a4a4a4" stroke-width="0.8"/>
<text x="245.8" y="303.63" font-size="5.3" fill="#151515" stroke="#151515" stroke-width="0.1" text-anchor="middle" font-weight="normal" transform="rotate(-90 245.8 303.63)">-.2</text>
<line x1="253.8" y1="308.3" x2="253.8" y2="310.5" stroke="#a4a4a4" stroke-width="0.8"/>
<text x="253.8" y="317.1" font-size="5.5" fill="#151515" stroke="#151515" stroke-width="0.1" text-anchor="middle" font-weight="normal">0</text>
<line x1="273.89" y1="308.3" x2="273.89" y2="310.5" stroke="#a4a4a4" stroke-width="0.8"/>
<text x="273.89" y="317.1" font-size="5.5" fill="#151515" stroke="#151515" stroke-width="0.1" text-anchor="middle" font-weight="normal">3</text>
<line x1="293.98" y1="308.3" x2="293.98" y2="310.5" stroke="#a4a4a4" stroke-width="0.8"/>
<text x="293.98" y="317.1" font-size="5.5" fill="#151515" stroke="#151515" stroke-width="0.1" text-anchor="middle" font-weight="normal">6</text>
<line x1="314.07" y1="308.3" x2="314.07" y2="310.5" stroke="#a4a4a4" stroke-width="0.8"/>
<text x="314.07" y="317.1" font-size="5.5" fill="#151515" stroke="#151515" stroke-width="0.1" text-anchor="middle" font-weight="normal">9</text>
<line x1="334.16" y1="308.3" x2="334.16" y2="310.5" stroke="#a4a4a4" stroke-width="0.8"/>
<text x="334.16" y="317.1" font-size="5.5" fill="#151515" stroke="#151515" stroke-width="0.1" text-anchor="middle" font-weight="normal">12</text>
<line x1="354.24" y1="308.3" x2="354.24" y2="310.5" stroke="#a4a4a4" stroke-width="0.8"/>
<text x="354.24" y="317.1" font-size="5.5" fill="#151515" stroke="#151515" stroke-width="0.1" text-anchor="middle" font-weight="normal">15</text>
<line x1="374.33" y1="308.3" x2="374.33" y2="310.5" stroke="#a4a4a4" stroke-width="0.8"/>
<text x="374.33" y="317.1" font-size="5.5" fill="#151515" stroke="#151515" stroke-width="0.1" text-anchor="middle" font-weight="normal">18</text>
<line x1="394.42" y1="308.3" x2="394.42" y2="310.5" stroke="#a4a4a4" stroke-width="0.8"/>
<text x="394.42" y="317.1" font-size="5.5" fill="#151515" stroke="#151515" stroke-width="0.1" text-anchor="middle" font-weight="normal">21</text>
<line x1="414.51" y1="308.3" x2="414.51" y2="310.5" stroke="#a4a4a4" stroke-width="0.8"/>
<text x="414.51" y="317.1" font-size="5.5" fill="#151515" stroke="#151515" stroke-width="0.1" text-anchor="middle" font-weight="normal">24</text>
<line x1="434.6" y1="308.3" x2="434.6" y2="310.5" stroke="#a4a4a4" stroke-width="0.8"/>
<text x="434.6" y="317.1" font-size="5.5" fill="#151515" stroke="#151515" stroke-width="0.1" text-anchor="middle" font-weight="normal">27</text>
<text x="344" y="321.9" font-size="5.5" fill="#151515" stroke="#151515" stroke-width="0.1" text-anchor="middle" font-weight="normal">PHQ-9 score</text>
<text x="240.2" y="255" font-size="5.5" fill="#151515" stroke="#151515" stroke-width="0.1" text-anchor="middle" font-weight="normal" transform="rotate(-90 240.2 255)">EQ-5D-3L</text>
<rect x="299.5" y="326.5" width="89.6" height="9.1" fill="#fff" stroke="#808080" stroke-width="0.8"/>
<rect x="301.5" y="329.3" width="3.2" height="3.2" rx="0.6" fill="#1e4766"/>
<text x="307.8" y="333" font-size="5.5" fill="#151515" stroke="#151515" stroke-width="0.1" text-anchor="start" font-weight="normal">Mean prediction</text>
<circle cx="356.6" cy="330.9" r="1.6" fill="#e2701c"/>
<text x="360.4" y="333" font-size="5.5" fill="#151515" stroke="#151515" stroke-width="0.1" text-anchor="start" font-weight="normal">Mean data</text>
<line x1="253.8" y1="217.1" x2="253.8" y2="222.3" stroke="#9aa3a3" stroke-width="0.7"/>
<line x1="252.6" y1="217.1" x2="255" y2="217.1" stroke="#9aa3a3" stroke-width="0.7"/>
<line x1="252.6" y1="222.3" x2="255" y2="222.3" stroke="#9aa3a3" stroke-width="0.7"/>
<line x1="260.5" y1="219" x2="260.5" y2="224.2" stroke="#9aa3a3" stroke-width="0.7"/>
<line x1="259.3" y1="219" x2="261.7" y2="219" stroke="#9aa3a3" stroke-width="0.7"/>
<line x1="259.3" y1="224.2" x2="261.7" y2="224.2" stroke="#9aa3a3" stroke-width="0.7"/>
<line x1="267.19" y1="222.4" x2="267.19" y2="227.6" stroke="#9aa3a3" stroke-width="0.7"/>
<line x1="265.99" y1="222.4" x2="268.39" y2="222.4" stroke="#9aa3a3" stroke-width="0.7"/>
<line x1="265.99" y1="227.6" x2="268.39" y2="227.6" stroke="#9aa3a3" stroke-width="0.7"/>
<line x1="273.89" y1="223.8" x2="273.89" y2="229" stroke="#9aa3a3" stroke-width="0.7"/>
<line x1="272.69" y1="223.8" x2="275.09" y2="223.8" stroke="#9aa3a3" stroke-width="0.7"/>
<line x1="272.69" y1="229" x2="275.09" y2="229" stroke="#9aa3a3" stroke-width="0.7"/>
<line x1="280.59" y1="226.2" x2="280.59" y2="231.4" stroke="#9aa3a3" stroke-width="0.7"/>
<line x1="279.39" y1="226.2" x2="281.79" y2="226.2" stroke="#9aa3a3" stroke-width="0.7"/>
<line x1="279.39" y1="231.4" x2="281.79" y2="231.4" stroke="#9aa3a3" stroke-width="0.7"/>
<line x1="287.28" y1="228.2" x2="287.28" y2="233.4" stroke="#9aa3a3" stroke-width="0.7"/>
<line x1="286.08" y1="228.2" x2="288.48" y2="228.2" stroke="#9aa3a3" stroke-width="0.7"/>
<line x1="286.08" y1="233.4" x2="288.48" y2="233.4" stroke="#9aa3a3" stroke-width="0.7"/>
<line x1="293.98" y1="230.7" x2="293.98" y2="235.9" stroke="#9aa3a3" stroke-width="0.7"/>
<line x1="292.78" y1="230.7" x2="295.18" y2="230.7" stroke="#9aa3a3" stroke-width="0.7"/>
<line x1="292.78" y1="235.9" x2="295.18" y2="235.9" stroke="#9aa3a3" stroke-width="0.7"/>
<line x1="300.67" y1="231.5" x2="300.67" y2="236.7" stroke="#9aa3a3" stroke-width="0.7"/>
<line x1="299.47" y1="231.5" x2="301.87" y2="231.5" stroke="#9aa3a3" stroke-width="0.7"/>
<line x1="299.47" y1="236.7" x2="301.87" y2="236.7" stroke="#9aa3a3" stroke-width="0.7"/>
<line x1="307.37" y1="232.7" x2="307.37" y2="238.3" stroke="#9aa3a3" stroke-width="0.7"/>
<line x1="306.17" y1="232.7" x2="308.57" y2="232.7" stroke="#9aa3a3" stroke-width="0.7"/>
<line x1="306.17" y1="238.3" x2="308.57" y2="238.3" stroke="#9aa3a3" stroke-width="0.7"/>
<line x1="314.07" y1="236.5" x2="314.07" y2="243.5" stroke="#9aa3a3" stroke-width="0.7"/>
<line x1="312.87" y1="236.5" x2="315.27" y2="236.5" stroke="#9aa3a3" stroke-width="0.7"/>
<line x1="312.87" y1="243.5" x2="315.27" y2="243.5" stroke="#9aa3a3" stroke-width="0.7"/>
<line x1="320.76" y1="234.2" x2="320.76" y2="241.2" stroke="#9aa3a3" stroke-width="0.7"/>
<line x1="319.56" y1="234.2" x2="321.96" y2="234.2" stroke="#9aa3a3" stroke-width="0.7"/>
<line x1="319.56" y1="241.2" x2="321.96" y2="241.2" stroke="#9aa3a3" stroke-width="0.7"/>
<line x1="327.46" y1="234.8" x2="327.46" y2="241.8" stroke="#9aa3a3" stroke-width="0.7"/>
<line x1="326.26" y1="234.8" x2="328.66" y2="234.8" stroke="#9aa3a3" stroke-width="0.7"/>
<line x1="326.26" y1="241.8" x2="328.66" y2="241.8" stroke="#9aa3a3" stroke-width="0.7"/>
<line x1="334.16" y1="236.8" x2="334.16" y2="243.8" stroke="#9aa3a3" stroke-width="0.7"/>
<line x1="332.96" y1="236.8" x2="335.36" y2="236.8" stroke="#9aa3a3" stroke-width="0.7"/>
<line x1="332.96" y1="243.8" x2="335.36" y2="243.8" stroke="#9aa3a3" stroke-width="0.7"/>
<line x1="340.85" y1="237.9" x2="340.85" y2="244.9" stroke="#9aa3a3" stroke-width="0.7"/>
<line x1="339.65" y1="237.9" x2="342.05" y2="237.9" stroke="#9aa3a3" stroke-width="0.7"/>
<line x1="339.65" y1="244.9" x2="342.05" y2="244.9" stroke="#9aa3a3" stroke-width="0.7"/>
<line x1="347.55" y1="237.8" x2="347.55" y2="245.8" stroke="#9aa3a3" stroke-width="0.7"/>
<line x1="346.35" y1="237.8" x2="348.75" y2="237.8" stroke="#9aa3a3" stroke-width="0.7"/>
<line x1="346.35" y1="245.8" x2="348.75" y2="245.8" stroke="#9aa3a3" stroke-width="0.7"/>
<line x1="354.24" y1="239.6" x2="354.24" y2="247.6" stroke="#9aa3a3" stroke-width="0.7"/>
<line x1="353.04" y1="239.6" x2="355.44" y2="239.6" stroke="#9aa3a3" stroke-width="0.7"/>
<line x1="353.04" y1="247.6" x2="355.44" y2="247.6" stroke="#9aa3a3" stroke-width="0.7"/>
<line x1="360.94" y1="239" x2="360.94" y2="247" stroke="#9aa3a3" stroke-width="0.7"/>
<line x1="359.74" y1="239" x2="362.14" y2="239" stroke="#9aa3a3" stroke-width="0.7"/>
<line x1="359.74" y1="247" x2="362.14" y2="247" stroke="#9aa3a3" stroke-width="0.7"/>
<line x1="367.64" y1="238.2" x2="367.64" y2="247.2" stroke="#9aa3a3" stroke-width="0.7"/>
<line x1="366.44" y1="238.2" x2="368.84" y2="238.2" stroke="#9aa3a3" stroke-width="0.7"/>
<line x1="366.44" y1="247.2" x2="368.84" y2="247.2" stroke="#9aa3a3" stroke-width="0.7"/>
<line x1="374.33" y1="243.3" x2="374.33" y2="252.3" stroke="#9aa3a3" stroke-width="0.7"/>
<line x1="373.13" y1="243.3" x2="375.53" y2="243.3" stroke="#9aa3a3" stroke-width="0.7"/>
<line x1="373.13" y1="252.3" x2="375.53" y2="252.3" stroke="#9aa3a3" stroke-width="0.7"/>
<line x1="381.03" y1="246.5" x2="381.03" y2="255.5" stroke="#9aa3a3" stroke-width="0.7"/>
<line x1="379.83" y1="246.5" x2="382.23" y2="246.5" stroke="#9aa3a3" stroke-width="0.7"/>
<line x1="379.83" y1="255.5" x2="382.23" y2="255.5" stroke="#9aa3a3" stroke-width="0.7"/>
<line x1="387.73" y1="247.3" x2="387.73" y2="257.3" stroke="#9aa3a3" stroke-width="0.7"/>
<line x1="386.53" y1="247.3" x2="388.93" y2="247.3" stroke="#9aa3a3" stroke-width="0.7"/>
<line x1="386.53" y1="257.3" x2="388.93" y2="257.3" stroke="#9aa3a3" stroke-width="0.7"/>
<line x1="394.42" y1="249.5" x2="394.42" y2="258.5" stroke="#9aa3a3" stroke-width="0.7"/>
<line x1="393.22" y1="249.5" x2="395.62" y2="249.5" stroke="#9aa3a3" stroke-width="0.7"/>
<line x1="393.22" y1="258.5" x2="395.62" y2="258.5" stroke="#9aa3a3" stroke-width="0.7"/>
<line x1="401.12" y1="253.1" x2="401.12" y2="264.1" stroke="#9aa3a3" stroke-width="0.7"/>
<line x1="399.92" y1="253.1" x2="402.32" y2="253.1" stroke="#9aa3a3" stroke-width="0.7"/>
<line x1="399.92" y1="264.1" x2="402.32" y2="264.1" stroke="#9aa3a3" stroke-width="0.7"/>
<line x1="407.81" y1="251.7" x2="407.81" y2="264.7" stroke="#9aa3a3" stroke-width="0.7"/>
<line x1="406.61" y1="251.7" x2="409.01" y2="251.7" stroke="#9aa3a3" stroke-width="0.7"/>
<line x1="406.61" y1="264.7" x2="409.01" y2="264.7" stroke="#9aa3a3" stroke-width="0.7"/>
<line x1="414.51" y1="255.7" x2="414.51" y2="270.1" stroke="#9aa3a3" stroke-width="0.7"/>
<line x1="413.31" y1="255.7" x2="415.71" y2="255.7" stroke="#9aa3a3" stroke-width="0.7"/>
<line x1="413.31" y1="270.1" x2="415.71" y2="270.1" stroke="#9aa3a3" stroke-width="0.7"/>
<line x1="421.21" y1="258.8" x2="421.21" y2="278.2" stroke="#9aa3a3" stroke-width="0.7"/>
<line x1="420.01" y1="258.8" x2="422.41" y2="258.8" stroke="#9aa3a3" stroke-width="0.7"/>
<line x1="420.01" y1="278.2" x2="422.41" y2="278.2" stroke="#9aa3a3" stroke-width="0.7"/>
<line x1="427.9" y1="251.7" x2="427.9" y2="275.7" stroke="#9aa3a3" stroke-width="0.7"/>
<line x1="426.7" y1="251.7" x2="429.1" y2="251.7" stroke="#9aa3a3" stroke-width="0.7"/>
<line x1="426.7" y1="275.7" x2="429.1" y2="275.7" stroke="#9aa3a3" stroke-width="0.7"/>
<line x1="434.6" y1="251.6" x2="434.6" y2="283" stroke="#9aa3a3" stroke-width="0.7"/>
<line x1="433.4" y1="251.6" x2="435.8" y2="251.6" stroke="#9aa3a3" stroke-width="0.7"/>
<line x1="433.4" y1="283" x2="435.8" y2="283" stroke="#9aa3a3" stroke-width="0.7"/>
<polyline points="253.8,219.7 260.5,221.6 267.19,225 273.89,226.4 280.59,228.8 287.28,230.8 293.98,233.3 300.67,234.1 307.37,235.5 314.07,237.4 320.76,236.6 327.46,238.3 334.16,240.3 340.85,241.4 347.55,242.5 354.24,243.6 360.94,244.7 367.64,247 374.33,247.8 381.03,249.4 387.73,252.3 394.42,254 401.12,255.1 407.81,258.2 414.51,260.2 421.21,262.7 427.9,264.9 434.6,269.3" fill="none" stroke="#5aa060" stroke-width="0.8" stroke-opacity="1" stroke-linejoin="round"/>
<polyline points="253.8,219.7 260.5,221.6 267.19,225 273.89,226.4 280.59,228.8 287.28,230.8 293.98,233.3 300.67,234.1 307.37,235.5 314.07,240 320.76,237.7 327.46,238.3 334.16,240.3 340.85,241.4 347.55,241.8 354.24,243.6 360.94,243 367.64,242.7 374.33,247.8 381.03,251 387.73,252.3 394.42,254 401.12,258.6 407.81,258.2 414.51,262.9 421.21,268.5 427.9,263.7 434.6,267.3" fill="none" stroke="#de3c5c" stroke-width="0.9" stroke-opacity="1" stroke-linejoin="round"/>
<rect x="252" y="217.9" width="3.6" height="3.6" fill="#1e4766"/>
<rect x="258.7" y="219.8" width="3.6" height="3.6" fill="#1e4766"/>
<rect x="265.39" y="223.2" width="3.6" height="3.6" fill="#1e4766"/>
<rect x="272.09" y="224.6" width="3.6" height="3.6" fill="#1e4766"/>
<rect x="278.79" y="227" width="3.6" height="3.6" fill="#1e4766"/>
<rect x="285.48" y="229" width="3.6" height="3.6" fill="#1e4766"/>
<rect x="292.18" y="231.5" width="3.6" height="3.6" fill="#1e4766"/>
<rect x="298.87" y="232.3" width="3.6" height="3.6" fill="#1e4766"/>
<rect x="305.57" y="233.7" width="3.6" height="3.6" fill="#1e4766"/>
<rect x="312.27" y="235.6" width="3.6" height="3.6" fill="#1e4766"/>
<rect x="318.96" y="234.8" width="3.6" height="3.6" fill="#1e4766"/>
<rect x="325.66" y="236.5" width="3.6" height="3.6" fill="#1e4766"/>
<rect x="332.36" y="238.5" width="3.6" height="3.6" fill="#1e4766"/>
<rect x="339.05" y="239.6" width="3.6" height="3.6" fill="#1e4766"/>
<rect x="345.75" y="240.7" width="3.6" height="3.6" fill="#1e4766"/>
<rect x="352.44" y="241.8" width="3.6" height="3.6" fill="#1e4766"/>
<rect x="359.14" y="242.9" width="3.6" height="3.6" fill="#1e4766"/>
<rect x="365.84" y="245.2" width="3.6" height="3.6" fill="#1e4766"/>
<rect x="372.53" y="246" width="3.6" height="3.6" fill="#1e4766"/>
<rect x="379.23" y="247.6" width="3.6" height="3.6" fill="#1e4766"/>
<rect x="385.93" y="250.5" width="3.6" height="3.6" fill="#1e4766"/>
<rect x="392.62" y="252.2" width="3.6" height="3.6" fill="#1e4766"/>
<rect x="399.32" y="253.3" width="3.6" height="3.6" fill="#1e4766"/>
<rect x="406.01" y="256.4" width="3.6" height="3.6" fill="#1e4766"/>
<rect x="412.71" y="258.4" width="3.6" height="3.6" fill="#1e4766"/>
<rect x="419.41" y="260.9" width="3.6" height="3.6" fill="#1e4766"/>
<rect x="426.1" y="263.1" width="3.6" height="3.6" fill="#1e4766"/>
<rect x="432.8" y="267.5" width="3.6" height="3.6" fill="#1e4766"/>
<circle cx="253.8" cy="219.7" r="1.55" fill="#e2701c"/>
<circle cx="260.5" cy="221.6" r="1.55" fill="#e2701c"/>
<circle cx="267.19" cy="225" r="1.55" fill="#e2701c"/>
<circle cx="273.89" cy="226.4" r="1.55" fill="#e2701c"/>
<circle cx="280.59" cy="228.8" r="1.55" fill="#e2701c"/>
<circle cx="287.28" cy="230.8" r="1.55" fill="#e2701c"/>
<circle cx="293.98" cy="233.3" r="1.55" fill="#e2701c"/>
<circle cx="300.67" cy="234.1" r="1.55" fill="#e2701c"/>
<circle cx="307.37" cy="235.5" r="1.55" fill="#e2701c"/>
<circle cx="314.07" cy="240" r="1.55" fill="#e2701c"/>
<circle cx="320.76" cy="237.7" r="1.55" fill="#e2701c"/>
<circle cx="327.46" cy="238.3" r="1.55" fill="#e2701c"/>
<circle cx="334.16" cy="240.3" r="1.55" fill="#e2701c"/>
<circle cx="340.85" cy="241.4" r="1.55" fill="#e2701c"/>
<circle cx="347.55" cy="241.8" r="1.55" fill="#e2701c"/>
<circle cx="354.24" cy="243.6" r="1.55" fill="#e2701c"/>
<circle cx="360.94" cy="243" r="1.55" fill="#e2701c"/>
<circle cx="367.64" cy="242.7" r="1.55" fill="#e2701c"/>
<circle cx="374.33" cy="247.8" r="1.55" fill="#e2701c"/>
<circle cx="381.03" cy="251" r="1.55" fill="#e2701c"/>
<circle cx="387.73" cy="252.3" r="1.55" fill="#e2701c"/>
<circle cx="394.42" cy="254" r="1.55" fill="#e2701c"/>
<circle cx="401.12" cy="258.6" r="1.55" fill="#e2701c"/>
<circle cx="407.81" cy="258.2" r="1.55" fill="#e2701c"/>
<circle cx="414.51" cy="262.9" r="1.55" fill="#e2701c"/>
<circle cx="421.21" cy="268.5" r="1.55" fill="#e2701c"/>
<circle cx="427.9" cy="263.7" r="1.55" fill="#e2701c"/>
<circle cx="434.6" cy="267.3" r="1.55" fill="#e2701c"/>
<text x="566.2" y="200.6" font-size="7.6" fill="#2c3656" stroke="#2c3656" stroke-width="0.1" text-anchor="middle" font-weight="normal">Model 9c - mean EQ-5D-3L by GAD-7</text>
<line x1="472.8" y1="206.25" x2="660" y2="206.25" stroke="#f0f4f4" stroke-width="0.8"/>
<line x1="472.8" y1="222.48" x2="660" y2="222.48" stroke="#f0f4f4" stroke-width="0.8"/>
<line x1="472.8" y1="238.71" x2="660" y2="238.71" stroke="#f0f4f4" stroke-width="0.8"/>
<line x1="472.8" y1="254.94" x2="660" y2="254.94" stroke="#f0f4f4" stroke-width="0.8"/>
<line x1="472.8" y1="271.17" x2="660" y2="271.17" stroke="#f0f4f4" stroke-width="0.8"/>
<line x1="472.8" y1="287.4" x2="660" y2="287.4" stroke="#f0f4f4" stroke-width="0.8"/>
<line x1="472.8" y1="303.63" x2="660" y2="303.63" stroke="#f0f4f4" stroke-width="0.8"/>
<line x1="472.3" y1="203.2" x2="472.3" y2="308.6" stroke="#a4a4a4" stroke-width="0.9"/>
<line x1="472.3" y1="308.3" x2="660" y2="308.3" stroke="#a4a4a4" stroke-width="0.9"/>
<line x1="470" y1="206.25" x2="472.3" y2="206.25" stroke="#a4a4a4" stroke-width="0.8"/>
<text x="467.8" y="206.25" font-size="5.3" fill="#151515" stroke="#151515" stroke-width="0.1" text-anchor="middle" font-weight="normal" transform="rotate(-90 467.8 206.25)">1</text>
<line x1="470" y1="222.48" x2="472.3" y2="222.48" stroke="#a4a4a4" stroke-width="0.8"/>
<text x="467.8" y="222.48" font-size="5.3" fill="#151515" stroke="#151515" stroke-width="0.1" text-anchor="middle" font-weight="normal" transform="rotate(-90 467.8 222.48)">.8</text>
<line x1="470" y1="238.71" x2="472.3" y2="238.71" stroke="#a4a4a4" stroke-width="0.8"/>
<text x="467.8" y="238.71" font-size="5.3" fill="#151515" stroke="#151515" stroke-width="0.1" text-anchor="middle" font-weight="normal" transform="rotate(-90 467.8 238.71)">.6</text>
<line x1="470" y1="254.94" x2="472.3" y2="254.94" stroke="#a4a4a4" stroke-width="0.8"/>
<text x="467.8" y="254.94" font-size="5.3" fill="#151515" stroke="#151515" stroke-width="0.1" text-anchor="middle" font-weight="normal" transform="rotate(-90 467.8 254.94)">.4</text>
<line x1="470" y1="271.17" x2="472.3" y2="271.17" stroke="#a4a4a4" stroke-width="0.8"/>
<text x="467.8" y="271.17" font-size="5.3" fill="#151515" stroke="#151515" stroke-width="0.1" text-anchor="middle" font-weight="normal" transform="rotate(-90 467.8 271.17)">.2</text>
<line x1="470" y1="287.4" x2="472.3" y2="287.4" stroke="#a4a4a4" stroke-width="0.8"/>
<text x="467.8" y="287.4" font-size="5.3" fill="#151515" stroke="#151515" stroke-width="0.1" text-anchor="middle" font-weight="normal" transform="rotate(-90 467.8 287.4)">0</text>
<line x1="470" y1="303.63" x2="472.3" y2="303.63" stroke="#a4a4a4" stroke-width="0.8"/>
<text x="467.8" y="303.63" font-size="5.3" fill="#151515" stroke="#151515" stroke-width="0.1" text-anchor="middle" font-weight="normal" transform="rotate(-90 467.8 303.63)">-.2</text>
<line x1="475.8" y1="308.3" x2="475.8" y2="310.5" stroke="#a4a4a4" stroke-width="0.8"/>
<text x="475.8" y="317.1" font-size="5.5" fill="#151515" stroke="#151515" stroke-width="0.1" text-anchor="middle" font-weight="normal">0</text>
<line x1="501.63" y1="308.3" x2="501.63" y2="310.5" stroke="#a4a4a4" stroke-width="0.8"/>
<text x="501.63" y="317.1" font-size="5.5" fill="#151515" stroke="#151515" stroke-width="0.1" text-anchor="middle" font-weight="normal">3</text>
<line x1="527.46" y1="308.3" x2="527.46" y2="310.5" stroke="#a4a4a4" stroke-width="0.8"/>
<text x="527.46" y="317.1" font-size="5.5" fill="#151515" stroke="#151515" stroke-width="0.1" text-anchor="middle" font-weight="normal">6</text>
<line x1="553.29" y1="308.3" x2="553.29" y2="310.5" stroke="#a4a4a4" stroke-width="0.8"/>
<text x="553.29" y="317.1" font-size="5.5" fill="#151515" stroke="#151515" stroke-width="0.1" text-anchor="middle" font-weight="normal">9</text>
<line x1="579.11" y1="308.3" x2="579.11" y2="310.5" stroke="#a4a4a4" stroke-width="0.8"/>
<text x="579.11" y="317.1" font-size="5.5" fill="#151515" stroke="#151515" stroke-width="0.1" text-anchor="middle" font-weight="normal">12</text>
<line x1="604.94" y1="308.3" x2="604.94" y2="310.5" stroke="#a4a4a4" stroke-width="0.8"/>
<text x="604.94" y="317.1" font-size="5.5" fill="#151515" stroke="#151515" stroke-width="0.1" text-anchor="middle" font-weight="normal">15</text>
<line x1="630.77" y1="308.3" x2="630.77" y2="310.5" stroke="#a4a4a4" stroke-width="0.8"/>
<text x="630.77" y="317.1" font-size="5.5" fill="#151515" stroke="#151515" stroke-width="0.1" text-anchor="middle" font-weight="normal">18</text>
<line x1="656.6" y1="308.3" x2="656.6" y2="310.5" stroke="#a4a4a4" stroke-width="0.8"/>
<text x="656.6" y="317.1" font-size="5.5" fill="#151515" stroke="#151515" stroke-width="0.1" text-anchor="middle" font-weight="normal">21</text>
<text x="566" y="321.9" font-size="5.5" fill="#151515" stroke="#151515" stroke-width="0.1" text-anchor="middle" font-weight="normal">GAD-7 score</text>
<text x="462.2" y="255" font-size="5.5" fill="#151515" stroke="#151515" stroke-width="0.1" text-anchor="middle" font-weight="normal" transform="rotate(-90 462.2 255)">EQ-5D-3L</text>
<rect x="521.5" y="326.5" width="89.6" height="9.1" fill="#fff" stroke="#808080" stroke-width="0.8"/>
<rect x="523.5" y="329.3" width="3.2" height="3.2" rx="0.6" fill="#1e4766"/>
<text x="529.8" y="333" font-size="5.5" fill="#151515" stroke="#151515" stroke-width="0.1" text-anchor="start" font-weight="normal">Mean prediction</text>
<circle cx="578.6" cy="330.9" r="1.6" fill="#e2701c"/>
<text x="582.4" y="333" font-size="5.5" fill="#151515" stroke="#151515" stroke-width="0.1" text-anchor="start" font-weight="normal">Mean data</text>
<line x1="475.8" y1="227.2" x2="475.8" y2="232.2" stroke="#9aa3a3" stroke-width="0.7"/>
<line x1="474.6" y1="227.2" x2="477" y2="227.2" stroke="#9aa3a3" stroke-width="0.7"/>
<line x1="474.6" y1="232.2" x2="477" y2="232.2" stroke="#9aa3a3" stroke-width="0.7"/>
<line x1="484.41" y1="231.6" x2="484.41" y2="237.6" stroke="#9aa3a3" stroke-width="0.7"/>
<line x1="483.21" y1="231.6" x2="485.61" y2="231.6" stroke="#9aa3a3" stroke-width="0.7"/>
<line x1="483.21" y1="237.6" x2="485.61" y2="237.6" stroke="#9aa3a3" stroke-width="0.7"/>
<line x1="493.02" y1="228.3" x2="493.02" y2="233.3" stroke="#9aa3a3" stroke-width="0.7"/>
<line x1="491.82" y1="228.3" x2="494.22" y2="228.3" stroke="#9aa3a3" stroke-width="0.7"/>
<line x1="491.82" y1="233.3" x2="494.22" y2="233.3" stroke="#9aa3a3" stroke-width="0.7"/>
<line x1="501.63" y1="230.8" x2="501.63" y2="235.8" stroke="#9aa3a3" stroke-width="0.7"/>
<line x1="500.43" y1="230.8" x2="502.83" y2="230.8" stroke="#9aa3a3" stroke-width="0.7"/>
<line x1="500.43" y1="235.8" x2="502.83" y2="235.8" stroke="#9aa3a3" stroke-width="0.7"/>
<line x1="510.24" y1="230.6" x2="510.24" y2="235.6" stroke="#9aa3a3" stroke-width="0.7"/>
<line x1="509.04" y1="230.6" x2="511.44" y2="230.6" stroke="#9aa3a3" stroke-width="0.7"/>
<line x1="509.04" y1="235.6" x2="511.44" y2="235.6" stroke="#9aa3a3" stroke-width="0.7"/>
<line x1="518.85" y1="233.1" x2="518.85" y2="238.1" stroke="#9aa3a3" stroke-width="0.7"/>
<line x1="517.65" y1="233.1" x2="520.05" y2="233.1" stroke="#9aa3a3" stroke-width="0.7"/>
<line x1="517.65" y1="238.1" x2="520.05" y2="238.1" stroke="#9aa3a3" stroke-width="0.7"/>
<line x1="527.46" y1="234.6" x2="527.46" y2="239.6" stroke="#9aa3a3" stroke-width="0.7"/>
<line x1="526.26" y1="234.6" x2="528.66" y2="234.6" stroke="#9aa3a3" stroke-width="0.7"/>
<line x1="526.26" y1="239.6" x2="528.66" y2="239.6" stroke="#9aa3a3" stroke-width="0.7"/>
<line x1="536.07" y1="235.8" x2="536.07" y2="240.8" stroke="#9aa3a3" stroke-width="0.7"/>
<line x1="534.87" y1="235.8" x2="537.27" y2="235.8" stroke="#9aa3a3" stroke-width="0.7"/>
<line x1="534.87" y1="240.8" x2="537.27" y2="240.8" stroke="#9aa3a3" stroke-width="0.7"/>
<line x1="544.68" y1="238.7" x2="544.68" y2="244.7" stroke="#9aa3a3" stroke-width="0.7"/>
<line x1="543.48" y1="238.7" x2="545.88" y2="238.7" stroke="#9aa3a3" stroke-width="0.7"/>
<line x1="543.48" y1="244.7" x2="545.88" y2="244.7" stroke="#9aa3a3" stroke-width="0.7"/>
<line x1="553.29" y1="240.9" x2="553.29" y2="246.9" stroke="#9aa3a3" stroke-width="0.7"/>
<line x1="552.09" y1="240.9" x2="554.49" y2="240.9" stroke="#9aa3a3" stroke-width="0.7"/>
<line x1="552.09" y1="246.9" x2="554.49" y2="246.9" stroke="#9aa3a3" stroke-width="0.7"/>
<line x1="561.9" y1="241.4" x2="561.9" y2="247.4" stroke="#9aa3a3" stroke-width="0.7"/>
<line x1="560.7" y1="241.4" x2="563.1" y2="241.4" stroke="#9aa3a3" stroke-width="0.7"/>
<line x1="560.7" y1="247.4" x2="563.1" y2="247.4" stroke="#9aa3a3" stroke-width="0.7"/>
<line x1="570.5" y1="241.4" x2="570.5" y2="247.4" stroke="#9aa3a3" stroke-width="0.7"/>
<line x1="569.3" y1="241.4" x2="571.7" y2="241.4" stroke="#9aa3a3" stroke-width="0.7"/>
<line x1="569.3" y1="247.4" x2="571.7" y2="247.4" stroke="#9aa3a3" stroke-width="0.7"/>
<line x1="579.11" y1="237.7" x2="579.11" y2="245.7" stroke="#9aa3a3" stroke-width="0.7"/>
<line x1="577.91" y1="237.7" x2="580.31" y2="237.7" stroke="#9aa3a3" stroke-width="0.7"/>
<line x1="577.91" y1="245.7" x2="580.31" y2="245.7" stroke="#9aa3a3" stroke-width="0.7"/>
<line x1="587.72" y1="239.9" x2="587.72" y2="247.9" stroke="#9aa3a3" stroke-width="0.7"/>
<line x1="586.52" y1="239.9" x2="588.92" y2="239.9" stroke="#9aa3a3" stroke-width="0.7"/>
<line x1="586.52" y1="247.9" x2="588.92" y2="247.9" stroke="#9aa3a3" stroke-width="0.7"/>
<line x1="596.33" y1="243.3" x2="596.33" y2="252.3" stroke="#9aa3a3" stroke-width="0.7"/>
<line x1="595.13" y1="243.3" x2="597.53" y2="243.3" stroke="#9aa3a3" stroke-width="0.7"/>
<line x1="595.13" y1="252.3" x2="597.53" y2="252.3" stroke="#9aa3a3" stroke-width="0.7"/>
<line x1="604.94" y1="242.9" x2="604.94" y2="253.9" stroke="#9aa3a3" stroke-width="0.7"/>
<line x1="603.74" y1="242.9" x2="606.14" y2="242.9" stroke="#9aa3a3" stroke-width="0.7"/>
<line x1="603.74" y1="253.9" x2="606.14" y2="253.9" stroke="#9aa3a3" stroke-width="0.7"/>
<line x1="613.55" y1="243.3" x2="613.55" y2="257.3" stroke="#9aa3a3" stroke-width="0.7"/>
<line x1="612.35" y1="243.3" x2="614.75" y2="243.3" stroke="#9aa3a3" stroke-width="0.7"/>
<line x1="612.35" y1="257.3" x2="614.75" y2="257.3" stroke="#9aa3a3" stroke-width="0.7"/>
<line x1="622.16" y1="250.1" x2="622.16" y2="261.1" stroke="#9aa3a3" stroke-width="0.7"/>
<line x1="620.96" y1="250.1" x2="623.36" y2="250.1" stroke="#9aa3a3" stroke-width="0.7"/>
<line x1="620.96" y1="261.1" x2="623.36" y2="261.1" stroke="#9aa3a3" stroke-width="0.7"/>
<line x1="630.77" y1="249.6" x2="630.77" y2="260.6" stroke="#9aa3a3" stroke-width="0.7"/>
<line x1="629.57" y1="249.6" x2="631.97" y2="249.6" stroke="#9aa3a3" stroke-width="0.7"/>
<line x1="629.57" y1="260.6" x2="631.97" y2="260.6" stroke="#9aa3a3" stroke-width="0.7"/>
<line x1="639.38" y1="252.7" x2="639.38" y2="263.7" stroke="#9aa3a3" stroke-width="0.7"/>
<line x1="638.18" y1="252.7" x2="640.58" y2="252.7" stroke="#9aa3a3" stroke-width="0.7"/>
<line x1="638.18" y1="263.7" x2="640.58" y2="263.7" stroke="#9aa3a3" stroke-width="0.7"/>
<line x1="647.99" y1="251.4" x2="647.99" y2="266.8" stroke="#9aa3a3" stroke-width="0.7"/>
<line x1="646.79" y1="251.4" x2="649.19" y2="251.4" stroke="#9aa3a3" stroke-width="0.7"/>
<line x1="646.79" y1="266.8" x2="649.19" y2="266.8" stroke="#9aa3a3" stroke-width="0.7"/>
<line x1="656.6" y1="259.3" x2="656.6" y2="274.7" stroke="#9aa3a3" stroke-width="0.7"/>
<line x1="655.4" y1="259.3" x2="657.8" y2="259.3" stroke="#9aa3a3" stroke-width="0.7"/>
<line x1="655.4" y1="274.7" x2="657.8" y2="274.7" stroke="#9aa3a3" stroke-width="0.7"/>
<polyline points="475.8,231.2 484.41,231.8 493.02,232.3 501.63,233.3 510.24,235 518.85,235.6 527.46,237.1 536.07,238.3 544.68,240.5 553.29,241.7 561.9,242.3 570.5,242.7 579.11,245.3 587.72,246.3 596.33,247.8 604.94,249.5 613.55,253.6 622.16,252.5 630.77,255.1 639.38,258.2 647.99,260.2 656.6,261.7" fill="none" stroke="#5aa060" stroke-width="0.8" stroke-opacity="1" stroke-linejoin="round"/>
<polyline points="475.8,229.7 484.41,234.6 493.02,230.8 501.63,233.3 510.24,233.1 518.85,235.6 527.46,237.1 536.07,238.3 544.68,241.7 553.29,243.9 561.9,244.4 570.5,244.4 579.11,241.7 587.72,243.9 596.33,247.8 604.94,248.4 613.55,250.3 622.16,255.6 630.77,255.1 639.38,258.2 647.99,259.1 656.6,267" fill="none" stroke="#de3c5c" stroke-width="0.9" stroke-opacity="1" stroke-linejoin="round"/>
<rect x="474" y="229.4" width="3.6" height="3.6" fill="#1e4766"/>
<rect x="482.61" y="230" width="3.6" height="3.6" fill="#1e4766"/>
<rect x="491.22" y="230.5" width="3.6" height="3.6" fill="#1e4766"/>
<rect x="499.83" y="231.5" width="3.6" height="3.6" fill="#1e4766"/>
<rect x="508.44" y="233.2" width="3.6" height="3.6" fill="#1e4766"/>
<rect x="517.05" y="233.8" width="3.6" height="3.6" fill="#1e4766"/>
<rect x="525.66" y="235.3" width="3.6" height="3.6" fill="#1e4766"/>
<rect x="534.27" y="236.5" width="3.6" height="3.6" fill="#1e4766"/>
<rect x="542.88" y="238.7" width="3.6" height="3.6" fill="#1e4766"/>
<rect x="551.49" y="239.9" width="3.6" height="3.6" fill="#1e4766"/>
<rect x="560.1" y="240.5" width="3.6" height="3.6" fill="#1e4766"/>
<rect x="568.7" y="240.9" width="3.6" height="3.6" fill="#1e4766"/>
<rect x="577.31" y="243.5" width="3.6" height="3.6" fill="#1e4766"/>
<rect x="585.92" y="244.5" width="3.6" height="3.6" fill="#1e4766"/>
<rect x="594.53" y="246" width="3.6" height="3.6" fill="#1e4766"/>
<rect x="603.14" y="247.7" width="3.6" height="3.6" fill="#1e4766"/>
<rect x="611.75" y="251.8" width="3.6" height="3.6" fill="#1e4766"/>
<rect x="620.36" y="250.7" width="3.6" height="3.6" fill="#1e4766"/>
<rect x="628.97" y="253.3" width="3.6" height="3.6" fill="#1e4766"/>
<rect x="637.58" y="256.4" width="3.6" height="3.6" fill="#1e4766"/>
<rect x="646.19" y="258.4" width="3.6" height="3.6" fill="#1e4766"/>
<rect x="654.8" y="259.9" width="3.6" height="3.6" fill="#1e4766"/>
<circle cx="475.8" cy="229.7" r="1.55" fill="#e2701c"/>
<circle cx="484.41" cy="234.6" r="1.55" fill="#e2701c"/>
<circle cx="493.02" cy="230.8" r="1.55" fill="#e2701c"/>
<circle cx="501.63" cy="233.3" r="1.55" fill="#e2701c"/>
<circle cx="510.24" cy="233.1" r="1.55" fill="#e2701c"/>
<circle cx="518.85" cy="235.6" r="1.55" fill="#e2701c"/>
<circle cx="527.46" cy="237.1" r="1.55" fill="#e2701c"/>
<circle cx="536.07" cy="238.3" r="1.55" fill="#e2701c"/>
<circle cx="544.68" cy="241.7" r="1.55" fill="#e2701c"/>
<circle cx="553.29" cy="243.9" r="1.55" fill="#e2701c"/>
<circle cx="561.9" cy="244.4" r="1.55" fill="#e2701c"/>
<circle cx="570.5" cy="244.4" r="1.55" fill="#e2701c"/>
<circle cx="579.11" cy="241.7" r="1.55" fill="#e2701c"/>
<circle cx="587.72" cy="243.9" r="1.55" fill="#e2701c"/>
<circle cx="596.33" cy="247.8" r="1.55" fill="#e2701c"/>
<circle cx="604.94" cy="248.4" r="1.55" fill="#e2701c"/>
<circle cx="613.55" cy="250.3" r="1.55" fill="#e2701c"/>
<circle cx="622.16" cy="255.6" r="1.55" fill="#e2701c"/>
<circle cx="630.77" cy="255.1" r="1.55" fill="#e2701c"/>
<circle cx="639.38" cy="258.2" r="1.55" fill="#e2701c"/>
<circle cx="647.99" cy="259.1" r="1.55" fill="#e2701c"/>
<circle cx="656.6" cy="267" r="1.55" fill="#e2701c"/>
<line x1="0" y1="0.5" x2="669" y2="0.5" stroke="#dcdcdc" stroke-width="1"/>
<line x1="1" y1="1.5" x2="667" y2="1.5" stroke="#959595" stroke-width="1"/>
<line x1="1.5" y1="1" x2="1.5" y2="360" stroke="#6c6c6c" stroke-width="1"/>
<line x1="223.5" y1="1" x2="223.5" y2="360" stroke="#6c6c6c" stroke-width="1"/>
<line x1="445.5" y1="1" x2="445.5" y2="360" stroke="#6c6c6c" stroke-width="1"/>
<line x1="1" y1="14.5" x2="668" y2="14.5" stroke="#6c6c6c" stroke-width="1"/>
<line x1="1" y1="187.5" x2="668" y2="187.5" stroke="#6c6c6c" stroke-width="1"/>
<line x1="1" y1="359.5" x2="668" y2="359.5" stroke="#6c6c6c" stroke-width="1"/>
<rect x="667" y="0" width="2" height="361" fill="#b4b4b4"/>
<rect x="667" y="14" width="1" height="1" fill="#555"/>
<rect x="667" y="187" width="1" height="1" fill="#555"/>
<rect x="667" y="359" width="1" height="1" fill="#555"/>
<text x="6.9" y="10.7" font-size="9.2" font-weight="bold" fill="#111">PHQ-9 and GAD-7</text>
<text x="229.5" y="10.6" font-size="9.2" font-weight="bold" fill="#111">PHQ-9</text>
<text x="452" y="10.6" font-size="9.2" font-weight="bold" fill="#111">GAD-7</text>
</svg>
</body></html>
